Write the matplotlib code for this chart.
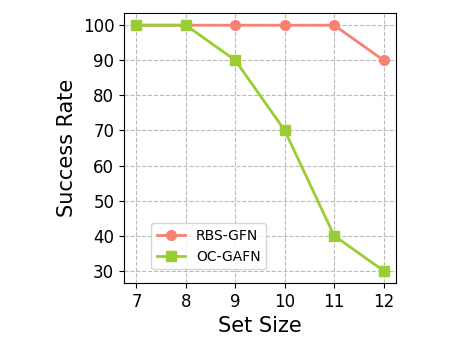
import matplotlib
matplotlib.use("Agg")
import matplotlib.pyplot as plt

set_sizes = [7, 8, 9, 10, 11, 12]
rbs_gfn = [100, 100, 100, 100, 100, 90]
oc_gafn = [100, 100, 90, 70, 40, 30]

fig = plt.figure(figsize=(4.68, 3.49), dpi=100)
ax = fig.add_axes([0.265, 0.189, 0.581, 0.774])

ax.plot(set_sizes, rbs_gfn, color="#FA8072", marker="o", markersize=7,
        linewidth=2, label="RBS-GFN")
ax.plot(set_sizes, oc_gafn, color="#9ACD32", marker="s", markersize=7,
        linewidth=2, label="OC-GAFN")

ax.grid(True, linestyle="--", color="#bbbbbb", linewidth=0.8)
ax.set_axisbelow(True)
ax.set_xticks(set_sizes)
ax.tick_params(labelsize=12)
ax.set_xlabel("Set Size", fontsize=15)
ax.set_ylabel("Success Rate", fontsize=15)
ax.legend(loc="lower left", bbox_to_anchor=(0.075, 0.025), fontsize=10)

fig.savefig("out.png", dpi=100)
